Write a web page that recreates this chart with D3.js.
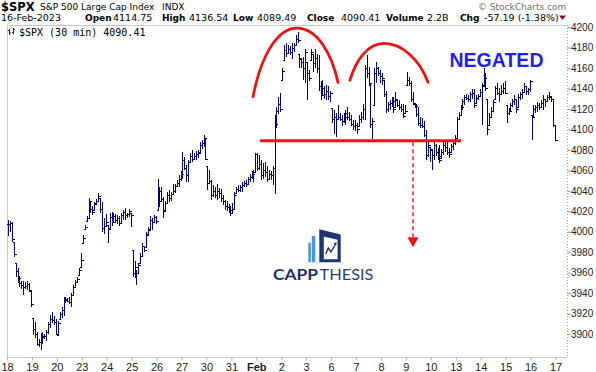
<!DOCTYPE html>
<html>
<head>
<meta charset="utf-8">
<script src="https://cdn.jsdelivr.net/npm/d3@7"></script>
<style>
  body { margin: 0; background: #fff; }
  svg { display: block; font-family: "Liberation Sans", Arial, sans-serif; }
</style>
</head>
<body>
<div id="chart"></div>
<script>
// Day boundary labels (22 trading days, label at each day start + one at the end)
const dayLabels = ["18","19","20","23","24","25","26","27","30","31","Feb","2","3","6","7","8","9","10","13","14","15","16","17"];

// 30 min bars, 13 per day
const barHigh = [
  4012,4011,4010,3990,3970,3965,3957,3952,3952,3951,3952,3950,3942, // Jan 18
  3916,3912,3902,3895,3901,3902,3900,3904,3912,3919,3922,3918,3915, // Jan 19
  3913,3922,3927,3936,3936,3935,3936,3940,3948,3953,3956,3965,3979, // Jan 20
  3997,4007,4015,4033,4030,4025,4029,4032,4038,4033,4029,4013,4017, // Jan 23
  4007,4018,4019,4018,4017,4016,4015,4018,4021,4023,4018,4022,4018, // Jan 24
  3982,3971,3963,3970,3979,3989,3986,4000,4005,4015,4013,4016,4015, // Jan 25
  4052,4044,4044,4034,4030,4039,4041,4039,4047,4047,4051,4055,4059, // Jan 26
  4078,4073,4065,4070,4077,4080,4077,4079,4080,4088,4090,4095,4092, // Jan 27
  4064,4060,4051,4046,4044,4047,4043,4042,4036,4031,4030,4027,4025, // Jan 30
  4028,4039,4044,4046,4046,4049,4050,4051,4054,4056,4059,4060,4077, // Jan 31
  4077,4075,4070,4067,4068,4064,4060,4059,4064,4114,4122,4132,4136, // Feb 1
  4160,4182,4184,4182,4181,4184,4184,4192,4195,4174,4169,4171,4179, // Feb 2
  4166,4158,4179,4174,4179,4174,4173,4147,4148,4142,4143,4142,4138, // Feb 3
  4121,4119,4116,4124,4116,4114,4116,4119,4122,4117,4114,4109,4109, // Feb 6
  4106,4114,4117,4125,4163,4173,4161,4145,4111,4160,4166,4161,4158, // Feb 7
  4155,4148,4138,4127,4129,4132,4132,4137,4129,4129,4125,4125,4124, // Feb 8
  4156,4151,4147,4137,4125,4125,4122,4112,4111,4108,4099,4090,4083, // Feb 9
  4080,4090,4086,4082,4085,4081,4088,4090,4088,4082,4086,4090,4095, // Feb 10
  4112,4117,4124,4130,4134,4135,4134,4137,4139,4139,4134,4135,4139, // Feb 13
  4145,4160,4155,4130,4116,4122,4129,4142,4145,4140,4143,4145,4147, // Feb 14
  4124,4121,4126,4130,4134,4130,4135,4137,4139,4145,4142,4140,4148, // Feb 15
  4114,4124,4124,4127,4126,4129,4134,4130,4134,4137,4132,4130,4104  // Feb 16
];
const barLow = [
  3996,4000,3990,3975,3956,3950,3946,3944,3938,3944,3943,3941,3927,
  3899,3896,3888,3887,3885,3890,3895,3893,3900,3906,3911,3909,3899,
  3900,3915,3916,3918,3930,3931,3929,3927,3937,3946,3950,3958,3966,
  3989,4003,4011,4013,4018,4016,4021,4028,4030,4018,4000,3998,4005,
  3989,4004,4006,4010,4009,4008,4006,4008,4012,4012,4013,4014,4005,
  3956,3955,3948,3959,3970,3975,3980,3985,3998,4003,4002,4009,4008,
  4021,4024,4029,4013,4021,4028,4029,4030,4037,4038,4044,4044,4050,
  4052,4060,4049,4049,4067,4068,4070,4070,4072,4078,4081,4083,4070,
  4041,4047,4031,4034,4033,4031,4033,4029,4026,4021,4020,4018,4015,
  4018,4021,4038,4039,4039,4039,4044,4044,4046,4049,4052,4049,4058,
  4059,4060,4051,4052,4054,4049,4052,4051,4046,4037,4101,4115,4117,
  4148,4168,4171,4174,4173,4169,4176,4181,4184,4160,4160,4148,4145,
  4129,4147,4168,4156,4160,4155,4138,4129,4135,4130,4129,4129,4127,
  4106,4096,4093,4109,4108,4103,4106,4104,4109,4108,4103,4099,4098,
  4096,4103,4106,4109,4109,4150,4142,4101,4091,4124,4145,4152,4145,
  4143,4132,4116,4117,4119,4122,4116,4122,4122,4119,4117,4111,4116,
  4143,4142,4127,4124,4121,4112,4103,4101,4101,4093,4070,4073,4068,
  4060,4070,4074,4070,4067,4072,4075,4078,4075,4072,4078,4080,4085,
  4092,4109,4114,4119,4124,4129,4127,4127,4130,4121,4126,4129,4132,
  4104,4143,4138,4095,4104,4111,4117,4130,4134,4127,4134,4135,4135,
  4106,4114,4117,4122,4124,4116,4122,4129,4130,4137,4134,4134,4137,
  4090,4112,4116,4117,4119,4122,4119,4122,4127,4129,4127,4102,4089
];
const barClose = [
  4008,4009,3993,3978,3962,3955,3950,3948,3946,3947,3949,3943,3929,
  3905,3900,3890,3892,3898,3897,3898,3902,3910,3915,3914,3912,3899,
  3911,3920,3924,3934,3933,3932,3931,3938,3946,3951,3954,3963,3972,
  3994,4005,4013,4030,4022,4019,4027,4030,4035,4022,4004,4006,4010,
  4003,4014,4010,4015,4012,4013,4009,4016,4019,4016,4017,4020,4016,
  3960,3966,3960,3968,3976,3986,3982,3997,4002,4012,4010,4014,4011,
  4030,4040,4032,4020,4028,4036,4033,4037,4040,4045,4048,4052,4056,
  4070,4062,4055,4068,4074,4071,4074,4076,4077,4085,4087,4092,4071,
  4048,4050,4036,4040,4036,4040,4038,4033,4030,4025,4024,4021,4018,
  4022,4036,4042,4041,4044,4046,4048,4047,4052,4054,4056,4058,4076,
  4062,4066,4055,4060,4058,4052,4056,4055,4062,4105,4118,4125,4120,
  4157,4178,4175,4179,4176,4180,4182,4188,4187,4170,4166,4160,4176,
  4155,4150,4176,4165,4170,4160,4142,4134,4140,4135,4138,4133,4136,
  4110,4112,4110,4112,4110,4108,4112,4116,4112,4110,4105,4103,4104,
  4100,4110,4112,4120,4160,4155,4145,4105,4108,4155,4160,4155,4152,
  4150,4135,4120,4125,4126,4128,4120,4130,4124,4122,4120,4113,4118,
  4148,4145,4130,4126,4123,4115,4106,4104,4103,4095,4075,4085,4081,
  4075,4085,4078,4074,4070,4078,4085,4083,4078,4076,4084,4087,4090,
  4110,4114,4122,4128,4132,4131,4130,4135,4136,4124,4131,4133,4137,
  4142,4150,4140,4100,4112,4118,4127,4140,4136,4135,4138,4140,4136,
  4116,4118,4124,4128,4130,4120,4132,4135,4137,4142,4138,4139,4147,
  4112,4120,4122,4124,4122,4126,4130,4128,4132,4133,4130,4104,4090
];

const yTicks = [3900,3920,3940,3960,3980,4000,4020,4040,4060,4080,4100,4120,4140,4160,4180,4200];

// Head & shoulders style annotation, in (bar index, price)
const leftHead = [[128.3,4132],[132.9,4177],[142.3,4200],[151.7,4199],[162.2,4198],[169.4,4173],[172.6,4146]];
const rightHead = [[178.8,4148],[182,4168],[188.2,4184],[196.6,4184],[206,4184],[215.3,4168],[219.5,4146]];
const necklinePrice = 4089;
const necklineBars = [132, 236.7];
const targetBar = 211.7;
const targetPrice = 3985;

const width = 596, height = 372;
const frame = {left: 7, right: 567, top: 25, bottom: 357};
const barsPerDay = 13;
const nBars = barHigh.length;
const headerFont = "'DejaVu Sans', Verdana, sans-serif";

const svg = d3.select("#chart")
    .append("svg")
    .attr("width", width)
    .attr("height", height);

// Scales
const xScale = d3.scaleLinear()
    .domain([0, nBars])
    .range([frame.left, 555.5]);

const yScale = d3.scaleLinear()
    .domain([3877.7, 4202])
    .range([frame.bottom, frame.top]);

/*****************/
/* Header texts  */
/*****************/
const header = svg.append("g").attr("fill", "#000").style("font-family", headerFont);
header.append("text").attr("x", 1).attr("y", 10.5)
    .style("font-size", "11.5px").style("font-weight", "bold").text("$SPX");
header.append("text").attr("x", 40).attr("y", 10)
    .style("font-size", "9px").text("S&P 500 Large Cap Index");
header.append("text").attr("x", 162).attr("y", 10)
    .style("font-size", "9px").text("INDX");
header.append("text").attr("x", 478).attr("y", 9.5)
    .style("font-size", "9px").attr("fill", "#707070").text("\u00A9 StockCharts.com");

const line2 = [
    {x: 1, t: "16-Feb-2023", b: false},
    {x: 85, t: "Open", b: true}, {x: 113, t: "4114.75", b: false},
    {x: 162, t: "High", b: true}, {x: 189, t: "4136.54", b: false},
    {x: 233, t: "Low", b: true}, {x: 257, t: "4089.49", b: false},
    {x: 307, t: "Close", b: true}, {x: 341, t: "4090.41", b: false},
    {x: 386, t: "Volume", b: true}, {x: 427, t: "2.2B", b: false},
    {x: 460, t: "Chg", b: true}, {x: 484, t: "-57.19 (-1.38%)", b: false}
];
header.selectAll("text.l2")
    .data(line2)
    .join("text")
    .attr("class", "l2")
    .attr("x", d => d.x)
    .attr("y", 21)
    .style("font-size", d => d.b ? "9px" : "9.5px")
    .style("font-weight", d => d.b ? "bold" : "normal")
    .text(d => d.t);
header.append("path")
    .attr("d", "M559,15.5 L566,15.5 L562.5,20 Z")
    .attr("fill", "#8b1028");

/*************/
/* Plot frame */
/*************/
svg.append("rect")
    .attr("x", frame.left + 0.5).attr("y", frame.top + 0.5)
    .attr("width", frame.right - frame.left).attr("height", frame.bottom - frame.top)
    .attr("fill", "none").attr("stroke", "#c8c8c8");
svg.append("line")
    .attr("x1", frame.right + 0.5).attr("x2", frame.right + 0.5)
    .attr("y1", frame.top).attr("y2", frame.bottom)
    .attr("stroke", "#fff").attr("stroke-width", 1.5);
svg.append("line")
    .attr("x1", frame.right + 0.5).attr("x2", frame.right + 0.5)
    .attr("y1", frame.top).attr("y2", frame.bottom + 1)
    .attr("stroke", "#a0a0a0").attr("stroke-dasharray", "1,2");

/*************/
/* Add axes  */
/*************/
const rightAxis = d3.axisRight(yScale)
    .tickValues(yTicks)
    .tickSize(3)
    .tickPadding(0.5)
    .tickFormat(d3.format("d"));
const yAxisGroup = svg.append("g")
    .attr("transform", `translate(${frame.right + 0.5},0)`)
    .call(rightAxis);
yAxisGroup.select(".domain").remove();
yAxisGroup.selectAll(".tick line").attr("stroke", "#909090");
yAxisGroup.selectAll(".tick text")
    .attr("fill", "#222")
    .style("font-family", "'Liberation Sans', Arial, sans-serif")
    .style("font-size", "10px");

const bottomAxis = d3.axisBottom(xScale)
    .tickValues(d3.range(0, nBars + 1, barsPerDay))
    .tickSize(3)
    .tickPadding(3)
    .tickFormat((d, i) => dayLabels[i]);
const xAxisGroup = svg.append("g")
    .attr("transform", `translate(0,${frame.bottom + 0.5})`)
    .call(bottomAxis);
xAxisGroup.select(".domain").remove();
xAxisGroup.selectAll(".tick line").attr("stroke", "#b0b0b0");
xAxisGroup.selectAll(".tick text")
    .attr("fill", "#222")
    .style("font-family", "'Liberation Sans', Arial, sans-serif")
    .style("font-size", "11px")
    .style("font-weight", (d, i) => dayLabels[i] === "Feb" ? "bold" : "normal");

/*****************/
/* CAPPTHESIS logo */
/*****************/
const logo = svg.append("g");
logo.append("rect").attr("x", 308.3).attr("y", 242.7).attr("width", 2.6).attr("height", 19.6).attr("fill", "#4a98d8");
logo.append("rect").attr("x", 311.8).attr("y", 236).attr("width", 3.5).attr("height", 26.3).attr("fill", "#4a98d8");
logo.append("path")
    .attr("d", "M319.3,229.3 L340.7,234.5 L340.7,262.3 L319.3,262.3 Z M323.8,236.5 L337.6,239.8 L337.6,259.2 L323.8,259.2 Z")
    .attr("fill", "#1e3370").attr("fill-rule", "evenodd");
logo.append("path")
    .attr("d", "M325.7,254 L328.3,248 L331,252 L335.5,244")
    .attr("fill", "none").attr("stroke", "#1e3370").attr("stroke-width", 1.4);
logo.append("path")
    .attr("d", "M333.5,243.5 L336.6,242 L336.3,245.6 Z")
    .attr("fill", "#1e3370");
logo.append("text").attr("x", 273).attr("y", 280)
    .attr("textLength", 45).attr("lengthAdjust", "spacingAndGlyphs")
    .style("font-family", "Lato, 'Open Sans', sans-serif")
    .style("font-size", "16px").style("font-weight", "bold")
    .attr("fill", "#1e2d6b").text("CAPP");
logo.append("text").attr("x", 319.5).attr("y", 280)
    .attr("textLength", 54).attr("lengthAdjust", "spacingAndGlyphs")
    .style("font-family", "Lato, 'Open Sans', sans-serif")
    .style("font-size", "16px")
    .attr("fill", "#2e3d78").text("THESIS");

/*****************/
/* Draw OHLC bars */
/*****************/
const bars = barHigh.map((h, i) => {
    const prev = i > 0 ? barClose[i - 1] : barClose[i];
    return {
        i: i,
        high: h,
        low: barLow[i],
        close: barClose[i],
        open: Math.max(barLow[i], Math.min(h, prev))
    };
});
const cx = d => Math.round(xScale(d.i + 0.5)) + 0.5;
const cy = v => Math.round(yScale(v)) + 0.5;

const barG = svg.append("g")
    .attr("stroke", "#00007e")
    .attr("stroke-width", 1)
    .attr("shape-rendering", "crispEdges");
barG.selectAll("line.hl")
    .data(bars)
    .join("line")
    .attr("class", "hl")
    .attr("x1", cx).attr("x2", cx)
    .attr("y1", d => Math.round(yScale(d.high)))
    .attr("y2", d => Math.max(Math.round(yScale(d.low)), Math.round(yScale(d.high)) + 1));
barG.selectAll("line.op")
    .data(bars)
    .join("line")
    .attr("class", "op")
    .attr("x1", d => cx(d) - 2).attr("x2", d => cx(d))
    .attr("y1", d => cy(d.open)).attr("y2", d => cy(d.open));
barG.selectAll("line.cl")
    .data(bars)
    .join("line")
    .attr("class", "cl")
    .attr("x1", d => cx(d)).attr("x2", d => cx(d) + 2)
    .attr("y1", d => cy(d.close)).attr("y2", d => cy(d.close));

/*******************/
/* Legend in plot  */
/*******************/
const legend = svg.append("g");
legend.append("path")
    .attr("d", "M9.5,29 V35 M8,30.5 H9.5 M9.5,33 H11 M13.5,28 V34 M12,32.5 H13.5 M13.5,29.5 H15")
    .attr("stroke", "#1a1aa0").attr("stroke-width", 1).attr("fill", "none");
legend.append("text")
    .attr("x", 19).attr("y", 36)
    .style("font-family", "'DejaVu Sans Mono', monospace")
    .style("font-size", "10px")
    .attr("fill", "#000")
    .text("$SPX (30 min) 4090.41");

/*********************/
/* Pattern annotation */
/*********************/
const ann = svg.append("g");
const arcPath = pts => {
    const p = d3.path();
    const P = pts.map(([b, v]) => [xScale(b), yScale(v)]);
    p.moveTo(P[0][0], P[0][1]);
    p.bezierCurveTo(P[1][0], P[1][1], P[2][0], P[2][1], P[3][0], P[3][1]);
    p.bezierCurveTo(P[4][0], P[4][1], P[5][0], P[5][1], P[6][0], P[6][1]);
    return p.toString();
};
[leftHead, rightHead].forEach(pts => {
    ann.append("path")
        .attr("d", arcPath(pts))
        .attr("fill", "none")
        .attr("stroke", "#f01010")
        .attr("stroke-width", 2.8)
        .attr("stroke-linecap", "round");
});

ann.append("line")
    .attr("x1", xScale(necklineBars[0])).attr("x2", xScale(necklineBars[1]))
    .attr("y1", yScale(necklinePrice)).attr("y2", yScale(necklinePrice))
    .attr("stroke", "#f01010")
    .attr("stroke-width", 3);

const ax = xScale(targetBar);
const tipY = yScale(targetPrice);
ann.append("line")
    .attr("x1", ax).attr("x2", ax)
    .attr("y1", yScale(necklinePrice) + 1.5).attr("y2", tipY - 9)
    .attr("stroke", "#e81818")
    .attr("stroke-width", 1.4)
    .attr("stroke-dasharray", "4,3");
ann.append("path")
    .attr("d", `M${ax - 5.5},${tipY - 10} L${ax + 5.5},${tipY - 10} L${ax},${tipY} Z`)
    .attr("fill", "#f01010");

ann.append("text")
    .attr("x", 449.5).attr("y", 67)
    .attr("textLength", 94).attr("lengthAdjust", "spacingAndGlyphs")
    .style("font-size", "20.5px")
    .style("font-weight", "bold")
    .attr("fill", "#1f1ff2")
    .text("NEGATED");
</script>
</body>
</html>
